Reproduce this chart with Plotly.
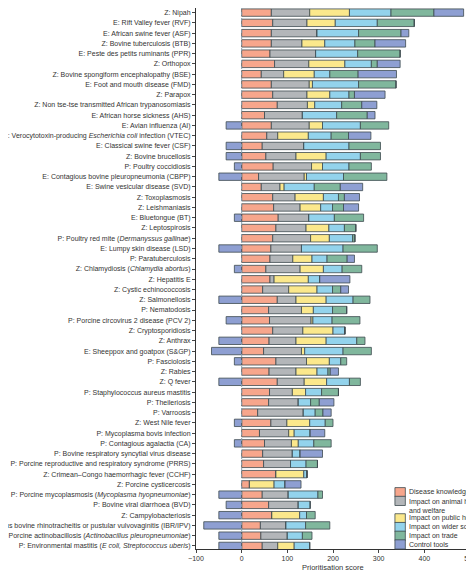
import plotly.graph_objects as go

diseases = [
 "Z: Nipah","E: Rift Valley fever (RVF)","E: African swine fever (ASF)","Z: Bovine tuberculosis (BTB)",
 "E: Peste des petits ruminants (PPR)","Z: Orthopox","Z: Bovine spongiform encephalopathy (BSE)",
 "E: Foot and mouth disease (FMD)","Z: Parapox","Z: Non tse-tse transmitted African trypanosomiasis",
 "E: African horse sickness (AHS)","E: Avian influenza (AI)",
 "Z: Verocytotoxin-producing <i>Escherichia coli</i> infection (VTEC)","E: Classical swine fever (CSF)",
 "Z: Bovine brucellosis","P: Poultry coccidiosis","E: Contagious bovine pleuropneumonia (CBPP)",
 "E: Swine vesicular disease (SVD)","Z: Toxoplasmosis","Z: Leishmaniasis","E: Bluetongue (BT)",
 "Z: Leptospirosis","P: Poultry red mite (<i>Dermanyssus gallinae</i>)","E: Lumpy skin disease (LSD)",
 "P: Paratuberculosis","Z: Chlamydiosis (<i>Chlamydia abortus</i>)","Z: Hepatitis E","Z: Cystic echinococcosis",
 "Z: Salmonellosis","P: Nematodosis","P: Porcine circovirus 2 disease (PCV 2)","Z: Cryptosporidiosis",
 "Z: Anthrax","E: Sheeppox and goatpox (S&GP)","P: Fasciolosis","Z: Rabies","Z: Q fever",
 "P: Staphylococcus aureus mastitis","P: Theileriosis","P: Varroosis","Z: West Nile fever",
 "P: Mycoplasma bovis infection","P: Contagious agalactia (CA)","P: Bovine respiratory syncytial virus disease",
 "P: Porcine reproductive and respiratory syndrome (PRRS)","Z: Crimean–Congo haemorrhagic fever (CCHF)",
 "Z: Porcine cysticercosis","P: Porcine mycoplasmosis (<i>Mycoplasma hyopneumoniae</i>)",
 "P: Bovine viral diarrhoea (BVD)","Z: Campylobacteriosis",
 "P: Infectious bovine rhinotracheitis or pustular vulvovaginitis (IBR/IPV)",
 "P: Porcine actinobacillosis (<i>Actinobacillus pleuropneumoniae</i>)",
 "P: Environmental mastitis (<i>E coli, Streptococcus uberis</i>)",
]

disease_knowledge = [65,68,65,65,62,72,43,65,68,78,50,65,55,45,53,69,37,43,68,70,80,75,68,64,62,53,62,46,
 78,59,61,68,60,48,75,60,78,61,59,35,64,39,50,46,48,75,17,45,59,66,41,42,45]
animal_health = [84,75,100,67,100,75,49,83,75,66,83,83,24,91,66,84,100,41,49,58,67,66,83,67,50,75,9,57,
 41,72,91,66,59,83,67,59,59,50,65,100,35,64,59,65,59,0,0,57,65,0,56,58,34]
public_health = [87,62,0,50,0,79,67,7,50,16,0,29,67,0,66,24,5,9,62,45,0,50,41,0,42,51,75,62,
 66,26,4,66,66,7,50,46,49,29,0,0,50,12,15,0,0,61,54,0,0,61,0,0,36]
wider_society = [91,92,91,66,92,58,34,101,42,59,75,83,50,99,75,58,81,66,33,26,56,34,51,91,33,41,25,34,
 59,42,42,26,67,84,25,24,50,35,27,26,34,35,34,17,34,7,24,65,26,15,43,33,34]
trade = [94,81,93,44,93,13,62,82,12,44,67,62,38,69,44,49,95,57,13,24,64,25,5,75,44,43,0,18,
 37,31,61,0,18,62,13,5,24,37,19,17,17,0,38,0,25,0,0,10,0,19,53,21,0]
control_tools = [65,0,17,67,0,50,84,0,67,33,17,-34,49,-34,-34,-16,-50,49,33,33,-16,0,0,-50,16,-16,66,17,
 -50,0,-34,0,-50,-66,-16,18,-50,0,32,18,-16,32,-16,49,0,0,35,-50,-34,-50,-83,-50,-50]

names = ["Disease knowledge","Impact on animal health<br>and welfare","Impact on public health",
         "Impact on wider society","Impact on trade","Control tools"]
colors = ["#f7a68c","#b3b6b9","#fbe88c","#93d3ec","#80b79d","#8e9fd2"]
series = [disease_knowledge, animal_health, public_health, wider_society, trade, control_tools]
edge = "#3d4a4f"
txt = "#333333"

fig = go.Figure()
for n, c, v in zip(names, colors, series):
    fig.add_trace(go.Bar(y=list(range(len(diseases))), x=v, name=n, orientation="h", marker_color=c,
                         marker_line=dict(color=edge, width=0.8), width=0.72, showlegend=False))

fig.add_shape(type="line", x0=0, x1=0, y0=0, y1=1, yref="paper",
              line=dict(color="#8aa0b0", width=1, dash="dot"))
fig.add_annotation(text="Prioritisation score", x=200, y=-0.035, xref="x", yref="paper",
                   showarrow=False, yanchor="middle", font=dict(size=7.5, color=txt))

# manual legend
leg_rows = [0, 1, 3, 4, 5, 6]
x0 = 0.726
for r, n, c in zip(leg_rows, names, colors):
    yc = 0.105 - r * 0.0161
    fig.add_shape(type="rect", xref="paper", yref="paper", x0=x0, x1=x0 + 0.038,
                  y0=yc - 0.0085, y1=yc + 0.0085, fillcolor=c, line=dict(color=edge, width=0.8))
    fig.add_annotation(text=n, xref="paper", yref="paper", x=x0 + 0.045, y=yc + (0.0085 if "<br>" in n else 0),
                       xanchor="left", yanchor="top" if "<br>" in n else "middle",
                       showarrow=False, align="left", font=dict(size=7, color=txt))

fig.update_layout(
    width=474, height=573, barmode="relative", plot_bgcolor="white", paper_bgcolor="white",
    font=dict(family="Liberation Sans", size=7, color=txt),
    margin=dict(l=188, r=12, t=0, b=32, autoexpand=False),
    xaxis=dict(range=[-100, 500], tickvals=[-100,0,100,200,300,400,500], showgrid=False,
               zeroline=False, showline=True, linecolor="#333", ticks="outside", ticklen=3,
               automargin=False),
    yaxis=dict(range=[52.3, -0.45], tickvals=list(range(len(diseases))), ticktext=diseases,
               showline=True, linecolor="#333", ticks="outside",
               ticklen=3, showgrid=False, zeroline=False, tickfont=dict(size=7), automargin=False),
)
fig.write_html("out.html")
